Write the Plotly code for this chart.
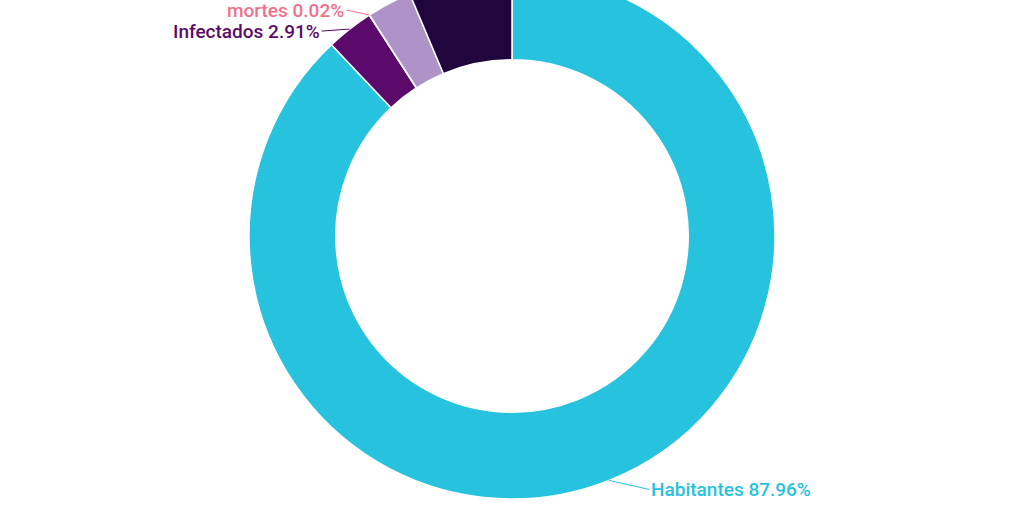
import plotly.graph_objects as go
import math

# ---- data ----
labels = ["Habitantes", "Infectados", "mortes", "Recuperados", "Suspeitos"]
values = [87.96, 2.91, 0.02, 2.75, 6.36]
colors = ["#27c2de", "#5b0a6b", "#f0708a", "#ae93c9", "#21053d"]
label_colors = ["#27c2de", "#5b0a6b", "#f0708a", "#ae93c9", "#21053d"]
shown_labels = ["Habitantes", "Infectados", "mortes"]

W, H = 1024, 560
PIE = 526   # pie box size in px
SHIFT = 27  # page offset of the figure

fig = go.Figure(go.Pie(
    labels=labels,
    values=values,
    sort=False,
    direction="clockwise",
    rotation=0,
    hole=0.67,
    marker=dict(colors=colors, line=dict(color="white", width=1.5)),
    textinfo="none",
    hoverinfo="label+percent",
    showlegend=False,
    domain=dict(x=[0, 1], y=[1 - PIE / H, 1]),
))

# label placement (pixel offsets of the text from the slice edge)
cx, cy, r = W / 2, PIE / 2, PIE / 2
offsets = {"Habitantes": (40, 9, "left"),
           "Infectados": (-28, 2, "right"),
           "mortes": (-23, -5, "right")}
total = sum(values)
cum = 0
annotations = []
for lab, val, col in zip(labels, values, label_colors):
    mid = (cum + val / 2) / total * 2 * math.pi
    cum += val
    if lab not in shown_labels:
        continue
    px = cx + r * math.sin(mid)
    py = cy - r * math.cos(mid)
    ax, ay, anc = offsets[lab]
    annotations.append(dict(
        x=px / W, y=1 - py / H, xref="paper", yref="paper",
        text=f"{lab} {val:.2f}%",
        showarrow=True, arrowhead=0, arrowwidth=1, arrowcolor=col,
        ax=ax, ay=ay, xanchor=anc, yanchor="middle",
        font=dict(family="Roboto", size=19, color=col, weight=500),
    ))

fig.update_layout(
    width=W, height=H,
    margin=dict(l=0, r=0, t=0, b=0),
    paper_bgcolor="white",
    plot_bgcolor="white",
    annotations=annotations,
    font=dict(family="Roboto"),
)

fig.write_html(
    "out.html",
    post_script=(
        "document.body.style.margin='0';"
        "document.body.style.overflow='hidden';"
        "var gd=document.getElementById('{plot_id}');"
        f"gd.style.marginTop='-{SHIFT}px';"
    ),
)
